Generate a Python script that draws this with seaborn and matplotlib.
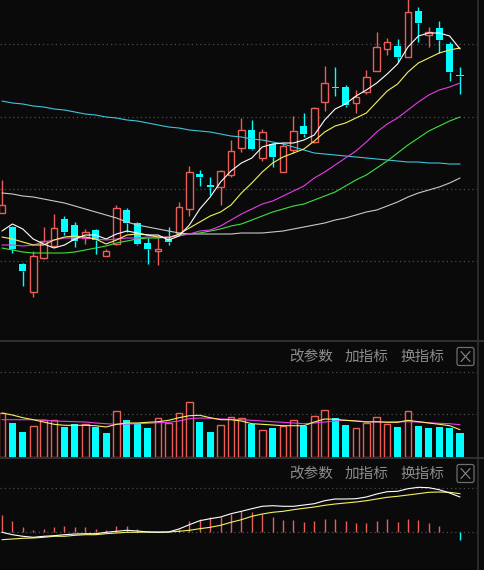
import numpy as np
import pandas as pd
import matplotlib
matplotlib.use("Agg")
import matplotlib.pyplot as plt
import seaborn as sns
from matplotlib.lines import Line2D
from matplotlib.patches import FancyBboxPatch

# ---- daily K-line data ----
open_ = [7.87, 7.73, 7.36, 7.08, 7.42, 7.54, 7.81, 7.75, 7.62, 7.70,
         7.44, 7.56, 7.90, 7.77, 7.57, 7.49, 7.61, 7.67, 7.91, 8.26,
         8.15, 8.13, 8.25, 8.52, 8.70, 8.42, 8.56, 8.28, 8.50, 8.74,
         8.58, 8.98, 9.13, 9.13, 8.97, 9.08, 9.29, 9.51, 9.54, 9.43,
         9.89, 9.65, 9.72, 9.56, 9.25]
close_ = [7.95, 7.51, 7.29, 7.44, 7.59, 7.72, 7.68, 7.59, 7.68, 7.60,
          7.49, 7.92, 7.77, 7.56, 7.51, 7.51, 7.58, 7.93, 8.28, 8.23,
          8.13, 8.29, 8.49, 8.70, 8.51, 8.68, 8.43, 8.54, 8.69, 8.66,
          8.92, 9.17, 9.12, 8.95, 9.03, 9.23, 9.53, 9.58, 9.43, 9.88,
          9.77, 9.68, 9.60, 9.28, 9.24]
high_ = [8.20, 7.74, 7.37, 7.49, 7.73, 7.86, 7.84, 7.78, 7.71, 7.71,
         7.51, 7.95, 7.92, 7.78, 7.62, 7.62, 7.73, 7.98, 8.34, 8.30,
         8.23, 8.30, 8.60, 8.82, 8.80, 8.71, 8.57, 8.57, 8.84, 8.87,
         8.93, 9.34, 9.33, 9.15, 9.10, 9.30, 9.68, 9.62, 9.61, 10.02,
         9.93, 9.73, 9.79, 9.58, 9.33]
low_ = [7.87, 7.47, 7.14, 7.03, 7.41, 7.53, 7.65, 7.53, 7.56, 7.46,
        7.44, 7.55, 7.68, 7.55, 7.36, 7.35, 7.55, 7.67, 7.84, 8.14,
        8.05, 7.95, 8.23, 8.48, 8.50, 8.39, 8.33, 8.28, 8.47, 8.63,
        8.57, 8.89, 9.04, 8.93, 8.87, 9.06, 9.29, 9.45, 9.38, 9.43,
        9.58, 9.53, 9.47, 9.19, 9.06]

# moving averages on the price panel
ma5 = [7.69, 7.76, 7.71, 7.61, 7.56, 7.52, 7.55, 7.61, 7.65, 7.65,
       7.61, 7.66, 7.69, 7.67, 7.65, 7.65, 7.60, 7.64, 7.75, 7.91,
       8.03, 8.18, 8.29, 8.37, 8.42, 8.53, 8.56, 8.57, 8.57, 8.60,
       8.65, 8.80, 8.91, 8.96, 9.04, 9.10, 9.17, 9.26, 9.36, 9.53,
       9.64, 9.67, 9.67, 9.64, 9.51]
ma10 = [7.63, 7.61, 7.58, 7.55, 7.55, 7.60, 7.63, 7.64, 7.63, 7.61,
        7.56, 7.60, 7.65, 7.66, 7.65, 7.63, 7.62, 7.66, 7.72, 7.78,
        7.84, 7.88, 7.95, 8.07, 8.17, 8.28, 8.37, 8.43, 8.47, 8.51,
        8.59, 8.68, 8.74, 8.77, 8.82, 8.87, 8.98, 9.09, 9.16, 9.28,
        9.37, 9.42, 9.47, 9.50, 9.52]
ma20 = [7.55, 7.55, 7.54, 7.55, 7.58, 7.60, 7.62, 7.62, 7.62, 7.61,
        7.60, 7.61, 7.62, 7.62, 7.63, 7.63, 7.63, 7.64, 7.66, 7.69,
        7.70, 7.74, 7.80, 7.86, 7.91, 7.96, 7.99, 8.04, 8.09, 8.14,
        8.22, 8.28, 8.35, 8.42, 8.49, 8.58, 8.68, 8.76, 8.82, 8.90,
        8.98, 9.05, 9.10, 9.13, 9.17]
ma30 = [7.52, 7.50, 7.48, 7.47, 7.47, 7.47, 7.47, 7.48, 7.50, 7.52,
        7.54, 7.57, 7.59, 7.61, 7.62, 7.62, 7.63, 7.65, 7.66, 7.67,
        7.69, 7.71, 7.74, 7.76, 7.80, 7.84, 7.88, 7.91, 7.94, 7.96,
        8.00, 8.04, 8.08, 8.14, 8.20, 8.25, 8.32, 8.39, 8.47, 8.55,
        8.62, 8.69, 8.74, 8.79, 8.83]
ma60 = [8.07, 8.06, 8.04, 8.03, 8.01, 7.99, 7.97, 7.94, 7.91, 7.88,
        7.85, 7.82, 7.78, 7.75, 7.73, 7.71, 7.69, 7.67, 7.66, 7.66,
        7.66, 7.66, 7.66, 7.67, 7.67, 7.67, 7.68, 7.69, 7.71, 7.73,
        7.75, 7.77, 7.80, 7.82, 7.85, 7.88, 7.90, 7.94, 7.98, 8.03,
        8.07, 8.10, 8.13, 8.17, 8.22]
ma250 = [8.99, 8.97, 8.96, 8.94, 8.93, 8.91, 8.90, 8.88, 8.86, 8.85,
         8.83, 8.82, 8.80, 8.79, 8.77, 8.75, 8.73, 8.72, 8.70, 8.69,
         8.68, 8.66, 8.64, 8.63, 8.61, 8.60, 8.58, 8.56, 8.53, 8.50,
         8.47, 8.46, 8.45, 8.44, 8.43, 8.42, 8.41, 8.40, 8.39, 8.38,
         8.38, 8.37, 8.37, 8.36, 8.36]

# volume panel
vol = [4.4, 3.4, 2.5, 3.1, 3.7, 3.7, 3.0, 3.3, 3.3, 3.0,
       2.4, 4.6, 3.7, 3.3, 2.9, 3.9, 3.4, 4.4, 5.5, 3.5,
       2.5, 3.2, 4.0, 3.9, 3.3, 2.7, 2.9, 3.1, 3.7, 3.1,
       4.1, 4.7, 3.9, 3.2, 2.9, 3.4, 4.0, 3.3, 3.0, 4.6,
       3.1, 2.9, 3.0, 2.9, 2.4]
vol_ma5 = [4.40, 4.20, 3.93, 3.73, 3.50, 3.27, 3.17, 3.17, 3.17, 3.13,
           3.00, 3.27, 3.40, 3.40, 3.47, 3.53, 3.67, 3.93, 4.13, 4.17,
           3.93, 3.73, 3.73, 3.60, 3.33, 3.27, 3.20, 3.13, 3.13, 3.13,
           3.50, 3.80, 3.77, 3.67, 3.60, 3.50, 3.53, 3.47, 3.47, 3.67,
           3.53, 3.40, 3.27, 3.13, 2.73]
vol_ma10 = [3.73, 3.73, 3.73, 3.73, 3.70, 3.60, 3.57, 3.53, 3.50, 3.40,
            3.33, 3.27, 3.30, 3.33, 3.37, 3.43, 3.47, 3.60, 3.83, 3.90,
            3.87, 3.80, 3.77, 3.73, 3.67, 3.60, 3.53, 3.47, 3.40, 3.33,
            3.40, 3.50, 3.60, 3.67, 3.60, 3.53, 3.50, 3.50, 3.53, 3.53,
            3.50, 3.43, 3.37, 3.33, 3.23]

# MACD panel
dif = [-0.003, -0.027, -0.043, -0.053, -0.043, -0.037, -0.027, -0.020, -0.017, -0.017,
       -0.003, 0.007, 0.017, 0.010, 0.000, -0.003, 0.000, 0.030, 0.073, 0.113,
       0.133, 0.150, 0.183, 0.207, 0.233, 0.257, 0.263, 0.257, 0.257, 0.270,
       0.283, 0.313, 0.330, 0.330, 0.333, 0.350, 0.380, 0.403, 0.407, 0.433,
       0.447, 0.443, 0.423, 0.390, 0.350]
dea = [-0.077, -0.070, -0.063, -0.060, -0.053, -0.043, -0.043, -0.033, -0.027, -0.027,
       -0.017, -0.010, -0.003, -0.003, 0.000, 0.000, 0.000, 0.007, 0.017, 0.033,
       0.047, 0.067, 0.097, 0.123, 0.157, 0.180, 0.197, 0.207, 0.223, 0.237,
       0.250, 0.267, 0.280, 0.290, 0.300, 0.313, 0.330, 0.347, 0.357, 0.370,
       0.383, 0.397, 0.400, 0.397, 0.383]
macd_hist = [0.167, 0.113, 0.047, 0.023, 0.033, 0.047, 0.057, 0.047, 0.047, 0.033,
             0.017, 0.057, 0.057, 0.033, 0.010, 0.003, 0.007, 0.033, 0.107, 0.133,
             0.147, 0.147, 0.183, 0.207, 0.197, 0.183, 0.147, 0.117, 0.120, 0.100,
             0.107, 0.133, 0.133, 0.107, 0.087, 0.087, 0.113, 0.133, 0.103, 0.133,
             0.120, 0.093, 0.057, -0.003, -0.077]

tool_labels = ["改参数", "加指标", "换指标"]

df = pd.DataFrame({
    "open": open_, "close": close_, "high": high_, "low": low_,
    "ma5": ma5, "ma10": ma10, "ma20": ma20, "ma30": ma30, "ma60": ma60, "ma250": ma250,
    "vol": vol, "vol_ma5": vol_ma5, "vol_ma10": vol_ma10,
    "dif": dif, "dea": dea, "hist": macd_hist,
})
df["day"] = np.arange(len(df))

BG = "#0a0a0a"
RED = "#ea5e57"
CYAN = "#00ffff"
GRID = "#4a4a4a"
FRAME = "#343434"
TXT = "#8c8c8c"

sns.set_theme(style="dark", rc={"axes.facecolor": BG, "figure.facecolor": BG,
                                "savefig.facecolor": BG})
plt.rcParams['font.family'] = ['Noto Sans CJK SC', 'DejaVu Sans']

W, H = 484, 570
fig = plt.figure(figsize=(W / 100, H / 100), dpi=100)
right = 477 / W
ax_k = fig.add_axes([0, 1 - 341 / H, right, 341 / H])
ax_v = fig.add_axes([0, 1 - 457 / H, right, 115 / H])
ax_m = fig.add_axes([0, 0, right, 113 / H])

x0, x1 = -0.19, 45.63
for ax in (ax_k, ax_v, ax_m):
    ax.set_facecolor(BG)
    ax.set_xlim(x0, x1)
    ax.set_xticks([])
    ax.set_yticks([])
    for s in ax.spines.values():
        s.set_visible(False)

dot = (0, (1, 2.4))
LW = 0.8

# ---------------- price panel ----------------
ax_k.set_ylim(6.59, 10.0)
for g in [9.56, 8.83, 8.11, 7.39]:
    ax_k.axhline(g, color=GRID, lw=0.9, ls=dot, zorder=0)

up = df["close"] >= df["open"]
body_lo = df[["open", "close"]].min(axis=1)
body_hi = df[["open", "close"]].max(axis=1)
body_h = (body_hi - body_lo).clip(lower=0.008)
cols = np.where(up, RED, CYAN)

ax_k.vlines(df["day"], body_hi, df["high"], colors=cols, lw=1.0, zorder=2)
ax_k.vlines(df["day"], df["low"], body_lo, colors=cols, lw=1.0, zorder=2)
ax_k.bar(df["day"][up], body_h[up], bottom=body_lo[up], width=0.64,
         facecolor=BG, edgecolor=RED, linewidth=1.0, zorder=3)
ax_k.bar(df["day"][~up], body_h[~up], bottom=body_lo[~up], width=0.68,
         color=CYAN, linewidth=0, zorder=3)

ma_styles = [("ma250", "#3cc4dc"), ("ma60", "#c8c8c8"), ("ma30", "#3ee03e"),
             ("ma20", "#e83ce8"), ("ma10", "#f4f060"), ("ma5", "#ffffff")]
for col, c in ma_styles:
    sns.lineplot(data=df, x="day", y=col, color=c, lw=LW, ax=ax_k,
                 legend=False, zorder=4)

# ---------------- volume panel ----------------
ax_v.set_ylim(0, 11.5)
for g in [8.5, 4.3]:
    ax_v.axhline(g, color=GRID, lw=0.9, ls=dot, zorder=0)
vol_up = np.r_[True, df["close"].values[1:] >= df["close"].values[:-1]]
ax_v.bar(df["day"][vol_up], df["vol"][vol_up], width=0.64,
         facecolor=BG, edgecolor=RED, linewidth=1.0, zorder=2)
ax_v.bar(df["day"][~vol_up], df["vol"][~vol_up], width=0.68,
         color=CYAN, linewidth=0, zorder=2)
sns.lineplot(data=df, x="day", y="vol_ma10", color="#e83ce8", lw=LW, ax=ax_v,
             legend=False, zorder=3)
sns.lineplot(data=df, x="day", y="vol_ma5", color="#f4f060", lw=LW, ax=ax_v,
             legend=False, zorder=4)

# ---------------- MACD panel ----------------
ax_m.set_ylim(-0.38, 0.75)
for g in [0.44, 0.0]:
    ax_m.axhline(g, color=GRID, lw=0.9, ls=dot, zorder=0)
hcols = np.where(df["hist"] >= 0, RED, CYAN)
ax_m.vlines(df["day"], 0, df["hist"], colors=hcols, lw=1.0, zorder=2)
sns.lineplot(data=df, x="day", y="dea", color="#f4f060", lw=LW, ax=ax_m,
             legend=False, zorder=3)
sns.lineplot(data=df, x="day", y="dif", color="#ffffff", lw=LW, ax=ax_m,
             legend=False, zorder=4)
for ax in (ax_k, ax_v, ax_m):
    ax.set_xlabel("")
    ax.set_ylabel("")

# ---------------- frame lines ----------------
for yy in (341, 457.5):
    fig.add_artist(Line2D([0, 1], [1 - yy / H, 1 - yy / H], color=FRAME, lw=1.3,
                          transform=fig.transFigure))
fig.add_artist(Line2D([478 / W, 478 / W], [0, 1], color=FRAME, lw=1.1,
                      transform=fig.transFigure))

# ---------------- toolbar texts + close boxes ----------------
for ty in (357, 474):
    for lab, tx in zip(tool_labels, [311, 366.5, 422.5]):
        fig.text(tx / W, 1 - ty / H, lab, color=TXT, fontsize=10.5,
                 ha="center", va="center")
    bx0, bx1 = 457, 474
    by0, by1 = ty - 9.5, ty + 8.5
    fig.add_artist(FancyBboxPatch((bx0 / W, 1 - by1 / H), (bx1 - bx0) / W, (by1 - by0) / H,
                                  boxstyle="round,pad=0,rounding_size=0.004",
                                  transform=fig.transFigure, fill=False,
                                  ec="#6e6e6e", lw=0.9))
    for (xa, ya, xb, yb) in [(461, by0 + 4, 470, by1 - 4), (461, by1 - 4, 470, by0 + 4)]:
        fig.add_artist(Line2D([xa / W, xb / W], [1 - ya / H, 1 - yb / H],
                              color="#8a8a8a", lw=0.8, transform=fig.transFigure))

fig.savefig("out.png", dpi=100, facecolor=BG)
